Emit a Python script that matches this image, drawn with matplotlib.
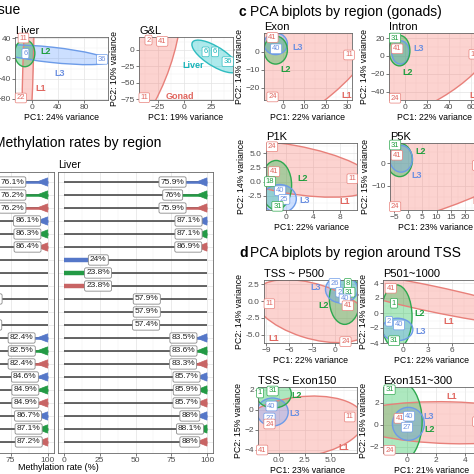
import matplotlib
matplotlib.use('Agg')
import matplotlib.pyplot as plt
from matplotlib.patches import Ellipse, Polygon
from matplotlib.ticker import AutoMinorLocator, FormatStrFormatter
import numpy as np

plt.rcParams['font.family'] = ['Liberation Sans', 'DejaVu Sans']

W = 474
fig = plt.figure(figsize=(4.74, 4.74), dpi=100)

# ---------------- data ----------------
# methylation rate per row (L3, L2, L1 repeated per region)
gonad_rates = [76.1, 76.2, 76.2, 86.1, 86.3, 86.4, 23.5, 23.6, 23.4, 60.1, 58.2, 59.9,
               82.4, 82.5, 82.4, 84.6, 84.9, 84.9, 86.7, 87.1, 87.2]
liver_rates = [75.9, 76, 75.9, 87.1, 87.1, 86.9, 24, 23.8, 23.8, 57.9, 57.9, 57.4,
               83.5, 83.6, 83.3, 85.7, 85.9, 85.7, 88, 88.1, 88]
row_lines = ['L3', 'L2', 'L1'] * 7

# PCA panels: ellipses (group, cx, cy, width, height, angle), sample labels, group labels
liver_ell = [('L1', -6, -20, 400, 16, 88.7), ('L3', 30, 7, 180, 30, -8), ('L2', -11, 10, 31, 53, 0)]
liver_pts = [('11', 'L1', -13, 40), ('22', 'L1', -17, -78), ('6', 'L3', -10, 9.5), ('36', 'L3', 108, -2)]
liver_grp = [('L2', 21, 12.5), ('L3', 43, -29), ('L1', 14, -60)]

gl_ell = [('Gonad', -281.7, 90, 560, 800, 0), ('Liver', 29, -10, 62, 24, -50)]
gl_pts = [('2', 'Gonad', -34, 15), ('41', 'Gonad', -21, 13), ('11', 'Gonad', -38, -73),
          ('6', 'Liver', 20, -3), ('6', 'Liver', 29, -3), ('36', 'Liver', 41, -18)]
gl_grp = [('Liver', 8, -24), ('Gonad', -4, -71)]

exon_ell = [('L1', -5, 5, 140, 80, 45), ('L3', -3.5, 4.5, 11, 12, 0), ('L2', -3.5, 1, 11, 15.5, 0)]
exon_pts = [('41', 'L1', -5, 8), ('40', 'L3', -3.3, 1.7), ('11', 'L1', 31, -1.7), ('24', 'L1', -5, -25)]
exon_grp = [('L3', 7, 2.7), ('L2', 1, -10), ('L1', 30, -24)]

intron_ell = [('L1', 0, 0, 200, 114, 36), ('L3', -4, 4, 16, 26, 0), ('L2', -5, 6, 19, 34, 0)]
intron_pts = [('31', 'L2', -9, 20), ('41', 'L1', -7, 8), ('24', 'L1', -9, -47), ('11', 'L1', 63, 2)]
intron_grp = [('L3', 12.7, 7.8), ('L2', 2.7, -18), ('L1', 63, -44)]

p1k_ell = [('L1', 0.5, 2.2, 26, 8.4, -12), ('L2', -1.5, -0.6, 4.6, 8.6, 0), ('L3', -1, -3, 5, 5, 0)]
p1k_pts = [('24', 'L1', -2.1, 6.1), ('41', 'L1', -1.8, 1.75), ('18', 'L2', -2.4, 0), ('40', 'L3', -0.9, -1.6),
           ('25', 'L3', -0.3, -3.1), ('31', 'L2', -1.3, -4.3), ('11', 'L1', 9.8, 0.5)]
p1k_grp = [('L2', 2.4, 0.5), ('L3', 2.8, -3.3), ('L1', 8.7, -3.5)]

p5k_ell = [('L1', 0, 0, 120, 47.4, 22.6), ('L2', -3, 1.5, 9, 15, 0), ('L3', -2.5, 2, 8, 12, 0)]
p5k_pts = [('31', 'L2', -4.6, 8.2), ('41', 'L1', -4, 3.6), ('24', 'L1', -4.6, -19.5), ('11', 'L1', 24.5, -1)]
p5k_grp = [('L2', 4.5, 5.5), ('L3', 3.1, -5.5), ('L1', 24.5, -17)]

tss_ell = [('L1', -3, -1.5, 16, 8, -20), ('L2', 1.2, 0.3, 4, 7.5, 0), ('L3', 0.8, 1.7, 4.2, 4, 0)]
tss_pts = [('26', 'L3', -0.1, 2.6), ('8', 'L2', 1.6, 2.6), ('2', 'L3', 0.5, 1.3), ('31', 'L2', 1.8, 1.3),
           ('40', 'L3', 1.2, 0.3), ('41', 'L1', 1.6, -0.7), ('11', 'L1', -8.6, -0.4), ('24', 'L1', 1.3, -6)]
tss_grp = [('L3', -2.6, 2), ('L2', -1.6, -0.6), ('L1', -8.1, -5.6)]

p501_ell = [('L1', 3.5, 1.9, 30, 3.4, -13), ('L2', -0.8, -0.5, 3.8, 8.5, 0), ('L3', -0.7, -2.2, 3.8, 3, 0)]
p501_pts = [('41', 'L1', -1.5, 3.3), ('1', 'L2', -1.1, 1.3), ('2', 'L3', -1.7, -1.1), ('40', 'L3', -0.5, -1.6),
            ('31', 'L2', -1.1, -3.7)]
p501_grp = [('L2', 2, -0.1), ('L3', 2.1, -2.4), ('L1', 5.6, -1.1)]

ex150_ell = [('L1', 2, -1.7, 12.5, 6, 8), ('L3', -0.6, -0.2, 3, 2.8, 0), ('L2', -0.5, 1.6, 3.4, 2.8, 0)]
ex150_pts = [('1', 'L2', -1.8, 1.7), ('31', 'L2', -0.6, 1.9), ('40', 'L3', -0.7, 0.4), ('27', 'L3', -0.9, -0.8),
             ('24', 'L1', -0.9, -1.4), ('11', 'L1', 6.8, -0.7), ('41', 'L1', -1.6, -4)]
ex150_grp = [('L2', 1.7, 1.4), ('L3', 1.5, -0.4), ('L1', 6.2, -3.7)]

ex300_ell = [('L1', 3, 0.2, 14, 3.8, -2), ('L2', -0.6, 0.3, 3.3, 7.5, 0), ('L3', 0.1, 0.1, 2.2, 3, 0)]
ex300_pts = [('31', 'L2', -1.2, 3.2), ('41', 'L1', -0.5, 0.6), ('40', 'L3', 0.15, 0.8), ('27', 'L3', 0, -0.2),
             ('24', 'L1', -1.2, -2.3), ('11', 'L1', 4.9, 0.3)]
ex300_grp = [('L3', 1.5, 0.8), ('L2', 1.6, -0.4), ('L1', 3.1, 2.6)]

FILL = {'L1': '#f8766d', 'L2': '#00ba38', 'L3': '#619cff', 'Gonad': '#f8766d', 'Liver': '#00bfc4'}
EDGE = {'L1': '#e8807a', 'L2': '#2ea84f', 'L3': '#6c9be8', 'Gonad': '#e8807a', 'Liver': '#2fbcc0'}
TXT = {'L1': '#e0665f', 'L2': '#1f9e3e', 'L3': '#6b8fe0', 'Gonad': '#e0665f', 'Liver': '#14b3b8'}
LOLLI = {'L3': '#5577c8', 'L2': '#239a45', 'L1': '#c86464'}


def px_axes(l, t, r, b):
    return fig.add_axes([l / W, 1 - b / W, (r - l) / W, (b - t) / W])


def theme(ax):
    ax.set_facecolor('white')
    for s in ax.spines.values():
        s.set_color('#666666')
        s.set_linewidth(0.6)
    ax.grid(True, which='major', color='#e3e3e3', lw=0.5)
    ax.grid(True, which='minor', color='#f1f1f1', lw=0.35)
    ax.set_axisbelow(True)
    ax.tick_params(which='major', length=2, width=0.5, color='#444444', labelsize=6,
                   labelcolor='#4d4d4d', pad=1)
    ax.tick_params(which='minor', length=0)


def pca(box, xlim, ylim, xt, yt, ells, pts, grps, title, xlab, ylab, xfmt=None, yfmt=None):
    ax = px_axes(*box)
    theme(ax)
    ax.set_xlim(*xlim)
    ax.set_ylim(*ylim)
    ax.set_xticks(xt)
    ax.set_yticks(yt)
    if xfmt:
        ax.xaxis.set_major_formatter(FormatStrFormatter(xfmt))
    if yfmt:
        ax.yaxis.set_major_formatter(FormatStrFormatter(yfmt))
    ax.xaxis.set_minor_locator(AutoMinorLocator(2))
    ax.yaxis.set_minor_locator(AutoMinorLocator(2))
    for g, cx, cy, w, h, a in ells:
        ax.add_patch(Ellipse((cx, cy), w, h, angle=a, fc=FILL[g], alpha=0.32, ec='none', zorder=1))
        ax.add_patch(Ellipse((cx, cy), w, h, angle=a, fc='none', ec=EDGE[g], lw=1.0, zorder=2))
    for s, g, x, y in pts:
        ax.text(x, y, s, color=TXT[g], fontsize=5.5, ha='center', va='center', zorder=4,
                bbox=dict(boxstyle='round,pad=0.18', fc='white', ec=EDGE[g], lw=0.5))
    for s, x, y in grps:
        ax.text(x, y, s, color=TXT[s], fontsize=6.5, fontweight='bold', ha='center', va='center', zorder=5)
    ax.set_title(title, loc='left', fontsize=8, pad=2.5)
    ax.set_xlabel(xlab, fontsize=6.3, labelpad=1)
    ax.set_ylabel(ylab, fontsize=6.3, labelpad=1)
    return ax


pca((15, 37, 108, 100), (-26, 117), (-82, 42), [0, 40, 80], [-80, -40, 0, 40],
    liver_ell, liver_pts, liver_grp, 'Liver', 'PC1: 24% variance', 'PC2: 11% variance')
pca((139, 37, 233, 100), (-43, 46), (-76.5, 19.7), [-25, 0, 25], [-75, -50, -25, 0],
    gl_ell, gl_pts, gl_grp, 'G&L', 'PC1: 19% variance', 'PC2: 10% variance')
pca((264, 33, 352, 100), (-9, 32.4), (-26.7, 10.5), [0, 10, 20, 30], [-20, -10, 0],
    exon_ell, exon_pts, exon_grp, 'Exon', 'PC1: 22% variance', 'PC2: 14% variance')
pca((389, 33, 480, 100), (-14.5, 68.2), (-49, 25.6), [0, 20, 40, 60], [-40, -20, 0, 20],
    intron_ell, intron_pts, intron_grp, 'Intron', 'PC1: 22% variance', 'PC2: 14% variance')
pca((266, 143, 357, 210), (-3, 10.5), (-4.95, 6.75), [0, 4, 8], [-2.5, 0, 2.5, 5.0],
    p1k_ell, p1k_pts, p1k_grp, 'P1K', 'PC1: 22% variance', 'PC2: 14% variance', yfmt='%.1f')
pca((390, 143, 480, 210), (-6.4, 25.3), (-21, 9.1), [-5, 0, 5, 10, 15, 20], [-10, 0],
    p5k_ell, p5k_pts, p5k_grp, 'P5K', 'PC1: 23% variance', 'PC2: 15% variance')
pca((264, 280, 357, 343), (-9.3, 2.8), (-6.2, 3.1), [-9, -6, -3, 0], [-5.0, -2.5, 0.0, 2.5],
    tss_ell, tss_pts, tss_grp, 'TSS ~ P500', 'PC1: 22% variance', 'PC2: 14% variance', yfmt='%.1f')
pca((383, 280, 480, 343), (-2.45, 9.4), (-4, 4.4), [0, 3, 6], [-4, -2, 0, 2, 4],
    p501_ell, p501_pts, p501_grp, 'P501~1000', 'PC1: 22% variance', 'PC2: 14% variance')
pca((258, 387, 357, 453), (-2.0, 7.5), (-4.3, 2.3), [0, 2.5, 5.0], [-4, -2, 0, 2],
    ex150_ell, ex150_pts, ex150_grp, 'TSS ~ Exon150', 'PC1: 23% variance', 'PC2: 15% variance', xfmt='%.1f')
pca((383, 387, 480, 453), (-1.65, 5.04), (-2.55, 3.45), [0, 2, 4], [-2, 0, 2],
    ex300_ell, ex300_pts, ex300_grp, 'Exon151~300', 'PC1: 21% variance', 'PC2: 16% variance')

# ---------------- methylation lollipop panels ----------------
rows = np.arange(len(liver_rates))


def lolli(box, rates, strip):
    ax = px_axes(*box)
    theme(ax)
    ax.set_xlim(-4.2, 104.2)
    ax.set_ylim(rows[-1] + 0.85, -0.77)
    ax.set_xticks([0, 25, 50, 75, 100])
    ax.xaxis.set_minor_locator(AutoMinorLocator(2))
    ax.set_yticks(rows)
    ax.set_yticklabels([])
    ax.tick_params(axis='y', length=0)
    for i, v, g in zip(rows, rates, row_lines):
        c = LOLLI[g]
        ax.plot([0, 100], [i, i], color='#3a3a3a', lw=1.1, solid_capstyle='butt', zorder=2)
        if v >= 70:
            ax.plot([v, 100], [i, i], color=c, lw=1.8, solid_capstyle='butt', zorder=3)
            ax.add_patch(Polygon([(94, i - 0.06), (100, i - 0.32), (100, i + 0.32), (94, i + 0.06)],
                                 closed=True, fc=c, ec=c, lw=0.5, zorder=3))
        elif v < 40:
            ax.plot([0, v], [i, i], color=c, lw=3.2, solid_capstyle='butt', zorder=3)
        lab = '%g%%' % v
        ax.text(v, i, lab, fontsize=6, ha='center', va='center', color='#222222', zorder=5,
                bbox=dict(boxstyle='round,pad=0.2', fc='white', ec='#8a8a8a', lw=0.6))
    ax.set_title(strip, loc='left', fontsize=7.5, pad=3)
    return ax


lolli((-107, 172, 54, 453), gonad_rates, 'Gonad')
lolli((58, 172, 213, 453), liver_rates, 'Liver')
fig.text(58 / W, 1 - 468 / W, 'Methylation rate (%)', fontsize=6.5, ha='center', va='center')

# ---------------- section titles ----------------
fig.text(20 / W, 1 - 10 / W, 'PCA biplots by tissue', fontsize=10, ha='right', va='center')
fig.text(161 / W, 1 - 143 / W, 'Methylation rates by region', fontsize=10, ha='right', va='center')
fig.text(239 / W, 1 - 12 / W, 'c', fontsize=10, fontweight='bold', ha='left', va='center')
fig.text(250 / W, 1 - 12 / W, 'PCA biplots by region (gonads)', fontsize=10, ha='left', va='center')
fig.text(239 / W, 1 - 253 / W, 'd', fontsize=10, fontweight='bold', ha='left', va='center')
fig.text(250 / W, 1 - 253 / W, 'PCA biplots by region around TSS', fontsize=10, ha='left', va='center')

fig.savefig('out.png', dpi=100)
